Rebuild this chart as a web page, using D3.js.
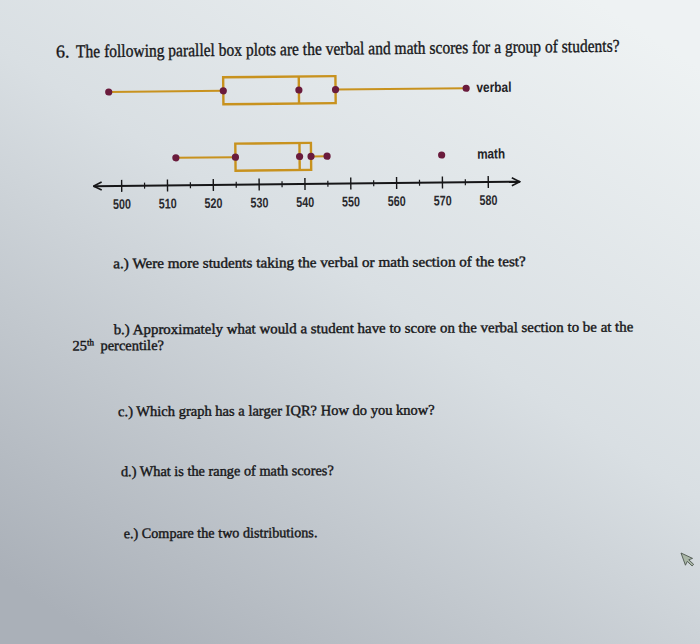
<!DOCTYPE html>
<html>
<head>
<meta charset="utf-8">
<script src="https://cdn.jsdelivr.net/npm/d3@7"></script>
<style>
  html, body { margin: 0; padding: 0; background: #d3d9de; }
  svg { display: block; }
</style>
</head>
<body>
<script>
// box plot values
var groups = ['verbal', 'math'];
var mins = [497.5, 512];
var q1s = [522.5, 525];
var medians = [539, 539];
var q3s = [547, 541.5];
var maxs = [575.5, 545];
var outliers = [[], [570]];

var majorTicks = [500, 510, 520, 530, 540, 550, 560, 570, 580];
var minorTicks = [505, 515, 525, 535, 545, 555, 565, 575];
var axisExtent = [494, 587];

var title = 'The following parallel box plots are the verbal and math scores for a group of students?';
var questions = [
  'a.) Were more students taking the verbal or math section of the test?',
  'b.) Approximately what would a student have to score on the verbal section to be at the',
  'c.) Which graph has a larger IQR? How do you know?',
  'd.) What is the range of math scores?',
  'e.) Compare the two distributions.'
];

var w = 700,
    h = 644;

var GOLD = '#c8921e';
var DOT = '#6a1b3c';
var INK = '#161618';

var svg = d3.select('body').append('svg')
  .attr('width', w)
  .attr('height', h);

// squeeze a text to a given width with a horizontal scale
function fit(sel, x0, y0, width) {
  sel.attr('x', 0).attr('y', 0);
  var len = sel.node().getComputedTextLength();
  sel.attr('transform', 'translate(' + x0 + ',' + y0 + ') scale(' + (width / len) + ',1)');
}

var defs = svg.append('defs');
var grad = defs.append('linearGradient')
  .attr('id', 'bg')
  .attr('x1', 0.85).attr('y1', 0)
  .attr('x2', 0.15).attr('y2', 1);
grad.append('stop').attr('offset', 0).attr('stop-color', '#eef2f3');
grad.append('stop').attr('offset', 0.45).attr('stop-color', '#d9dfe3');
grad.append('stop').attr('offset', 1).attr('stop-color', '#aab0b8');

defs.append('marker')
  .attr('id', 'arrow')
  .attr('viewBox', '0 0 10 10')
  .attr('refX', 9).attr('refY', 5)
  .attr('markerWidth', 5).attr('markerHeight', 5)
  .attr('orient', 'auto-start-reverse')
  .append('path')
    .attr('d', 'M1,1 L9,5 L1,9')
    .attr('fill', 'none')
    .attr('stroke', INK)
    .attr('stroke-width', 1.6);

svg.append('rect')
  .attr('width', w)
  .attr('height', h)
  .attr('fill', 'url(#bg)');

// the photo is tilted a little, so the top part gets a small rotation
var page = svg.append('g')
  .attr('transform', 'rotate(-0.6, 300, 140)');

var t6 = page.append('text').text('6.');
var tTitle = page.append('text').text(title);
page.selectAll('text')
  .style('font-family', 'Liberation Serif')
  .style('font-size', '18px')
  .style('fill', INK)
  .style('stroke', INK)
  .style('stroke-width', 0.35);
t6.attr('x', 57).attr('y', 55);
fit(tTitle, 77, 55, 544);

var x = d3.scaleLinear()
  .domain([500, 580])
  .range([120.7, 487.3]);

var y = d3.scalePoint()
  .domain(groups)
  .range([90, 156.5]);

var axisY = 184;
var BOX_H = 27;

var data = groups.map(function(g, i) {
  return { name: g, min: mins[i], q1: q1s[i], med: medians[i], q3: q3s[i], max: maxs[i], out: outliers[i] };
});

var chart = page.append('g');

// whiskers
chart.append('g').selectAll('line.lo')
    .data(data)
  .enter().append('line')
    .attr('x1', function(d) { return x(d.min); })
    .attr('x2', function(d) { return x(d.q1); })
    .attr('y1', function(d) { return y(d.name); })
    .attr('y2', function(d) { return y(d.name); });
chart.append('g').selectAll('line.hi')
    .data(data)
  .enter().append('line')
    .attr('x1', function(d) { return x(d.q3); })
    .attr('x2', function(d) { return x(d.max); })
    .attr('y1', function(d) { return y(d.name); })
    .attr('y2', function(d) { return y(d.name); });
chart.selectAll('line')
  .attr('stroke', GOLD)
  .attr('stroke-width', 2);

chart.append('g').selectAll('rect')
    .data(data)
  .enter().append('rect')
    .attr('x', function(d) { return x(d.q1); })
    .attr('y', function(d) { return y(d.name) - BOX_H / 2; })
    .attr('width', function(d) { return x(d.q3) - x(d.q1); })
    .attr('height', BOX_H)
    .attr('fill', 'none')
    .attr('stroke', GOLD)
    .attr('stroke-width', 2.4);

chart.append('g').selectAll('line')
    .data(data)
  .enter().append('line')
    .attr('x1', function(d) { return x(d.med); })
    .attr('x2', function(d) { return x(d.med); })
    .attr('y1', function(d) { return y(d.name) - BOX_H / 2; })
    .attr('y2', function(d) { return y(d.name) + BOX_H / 2; })
    .attr('stroke', GOLD)
    .attr('stroke-width', 2.4);

// dots at every five-number value, plus outliers
var dots = [];
data.forEach(function(d) {
  [d.min, d.q1, d.med, d.q3, d.max].concat(d.out).forEach(function(v) {
    dots.push({ name: d.name, v: v });
  });
});
chart.append('g').selectAll('circle')
    .data(dots)
  .enter().append('circle')
    .attr('cx', function(d) { return x(d.v); })
    .attr('cy', function(d) { return y(d.name); })
    .attr('r', 3.6)
    .attr('fill', DOT);

chart.append('g').selectAll('text')
    .data(data)
  .enter().append('text')
    .style('font-family', 'Liberation Sans')
    .style('font-size', '14px')
    .style('font-weight', 'bold')
    .style('fill', '#222226')
    .text(function(d) { return d.name; })
    .each(function(d) {
      fit(d3.select(this), 477, y(d.name) + 4, d.name === 'verbal' ? 35 : 28);
    });

// number line
var axisG = chart.append('g')
  .attr('transform', 'translate(0,' + axisY + ')');

axisG.append('line')
  .attr('x1', x(axisExtent[0]))
  .attr('x2', x(axisExtent[1]))
  .attr('stroke', INK)
  .attr('stroke-width', 2)
  .attr('marker-start', 'url(#arrow)')
  .attr('marker-end', 'url(#arrow)');

var major = axisG.append('g')
  .call(d3.axisBottom(x).tickValues(majorTicks).tickSize(6).tickPadding(10));
major.select('.domain').remove();
major.selectAll('.tick line')
  .attr('y1', -6)
  .attr('stroke', INK)
  .attr('stroke-width', 1.4);
major.selectAll('.tick text')
  .attr('y', 23)
  .attr('dy', 0)
  .attr('textLength', 18)
  .attr('lengthAdjust', 'spacingAndGlyphs')
  .style('font-family', 'Liberation Sans')
  .style('font-size', '14px')
  .style('font-weight', 'bold')
  .style('fill', '#2a2a2e');

var minor = axisG.append('g')
  .call(d3.axisBottom(x).tickValues(minorTicks).tickSize(3).tickFormat(''));
minor.select('.domain').remove();
minor.selectAll('.tick line')
  .attr('y1', -3)
  .attr('stroke', INK)
  .attr('stroke-width', 1.2);

// questions below the chart
var qx = [114, 114, 118, 120.5, 123];
var qy = [267, 333, 415, 475, 537];
var qw = [413, 520, 317, 213, 194];

var qs = svg.append('g')
  .attr('transform', 'rotate(-0.3, 350, 400)');

var qText = qs.selectAll('text.q')
    .data(questions)
  .enter().append('text')
    .attr('class', 'q')
    .text(function(d) { return d; });

var p25 = qs.append('text')
  .attr('class', 'q')
  .attr('x', 72.7)
  .attr('y', 349);
p25.append('tspan').text('25');
p25.append('tspan')
  .attr('dy', -5)
  .style('font-size', '9px')
  .text('th');
p25.append('tspan')
  .attr('x', 100.7)
  .attr('dy', 5)
  .text('percentile?');

qs.selectAll('text')
  .style('font-family', 'Liberation Serif')
  .style('font-size', '14.5px')
  .style('fill', INK)
  .style('stroke', INK)
  .style('stroke-width', 0.4);

qText.each(function(d, i) {
  fit(d3.select(this), qx[i], qy[i], qw[i]);
});

// mouse pointer seen in the photo
svg.append('path')
  .attr('transform', 'translate(681,553) rotate(-20)')
  .attr('d', 'M0,0 L0,13 L3,10 L6,16 L8,15 L5,9 L9,9 Z')
  .attr('fill', '#a9b6a6')
  .attr('stroke', '#4c554d')
  .attr('stroke-width', 0.8);
</script>
</body>
</html>
